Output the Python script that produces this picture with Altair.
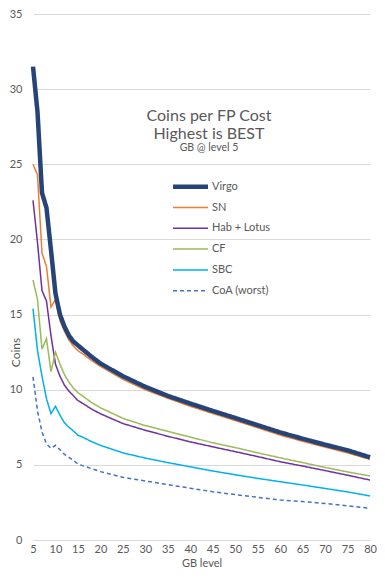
import altair as alt
import pandas as pd

LEVELS = [5, 6, 7, 8, 9, 10, 11, 12, 13, 14, 15, 16, 18, 20, 25, 30, 35, 40, 45, 50, 55, 60, 65, 70, 75, 80]

SERIES = ["Virgo", "SN", "Hab + Lotus", "CF", "SBC", "CoA (worst)"]

VIRGO = [31.5, 28.5, 23.1, 22.1, 19.3, 16.4, 15.0, 14.2, 13.6, 13.2, 12.95, 12.7, 12.2, 11.75, 10.9, 10.19, 9.59, 9.08, 8.59, 8.12, 7.64, 7.16, 6.74, 6.34, 5.97, 5.5]
SN = [25.0, 24.3, 19.1, 18.2, 15.5, 16.0, 14.6, 13.9, 13.3, 12.9, 12.6, 12.4, 11.95, 11.55, 10.69, 10.0, 9.43, 8.9, 8.42, 7.95, 7.47, 6.98, 6.57, 6.18, 5.8, 5.36]
HAB = [22.6, 19.8, 16.6, 15.9, 13.6, 11.7, 10.9, 10.3, 9.9, 9.6, 9.28, 9.1, 8.72, 8.4, 7.75, 7.3, 6.9, 6.53, 6.2, 5.88, 5.55, 5.21, 4.92, 4.62, 4.31, 3.99]
CF = [17.3, 16.0, 12.7, 13.4, 11.2, 12.5, 11.7, 11.0, 10.5, 10.1, 9.8, 9.6, 9.15, 8.8, 8.1, 7.61, 7.23, 6.85, 6.47, 6.15, 5.8, 5.47, 5.15, 4.83, 4.53, 4.26]
SBC = [15.4, 12.6, 10.9, 9.4, 8.4, 8.9, 8.3, 7.8, 7.5, 7.25, 6.97, 6.85, 6.55, 6.3, 5.8, 5.45, 5.15, 4.87, 4.59, 4.34, 4.1, 3.88, 3.66, 3.43, 3.2, 2.93]
COA = [10.85, 8.6, 7.2, 6.4, 6.1, 6.3, 6.0, 5.7, 5.5, 5.3, 5.05, 4.95, 4.75, 4.55, 4.17, 3.93, 3.68, 3.45, 3.21, 3.02, 2.84, 2.66, 2.56, 2.43, 2.27, 2.11]

COLORS = ["#264478", "#ED7D31", "#7030A0", "#9BBB59", "#00B0F0", "#4472C4"]
DASHES = [[1, 0], [1, 0], [1, 0], [1, 0], [1, 0], [4, 3]]

X_TICKS = list(range(5, 81, 5))
Y_TICKS = list(range(0, 36, 5))

TITLE_1 = "Coins per FP Cost"
TITLE_2 = "Highest is BEST"
SUBTITLE = "GB @ level 5"

FONT = "Lato"
GREY = "#595959"

rows = []
for name, vals in zip(SERIES, [VIRGO, SN, HAB, CF, SBC, COA]):
    for lv, v in zip(LEVELS, vals):
        rows.append({"series": name, "level": lv, "coins": v})
df = pd.DataFrame(rows)

color_scale = alt.Scale(domain=SERIES, range=COLORS)
dash_scale = alt.Scale(domain=SERIES, range=DASHES)

x_axis = alt.Axis(
    values=X_TICKS, title="GB level", grid=False, ticks=False,
    domain=False, labelPadding=3, labelOverlap=False, labelFlush=False,
    titleY=23, titleBaseline="middle", titleFontSize=11,
)
y_axis = alt.Axis(
    values=Y_TICKS, title="Coins", grid=True, gridColor="#D9D9D9",
    ticks=False, domain=False, labelPadding=11, labelFlush=False,
    labelOverlap=False,
    titleX=-18, titleY=338, titleAngle=270, titleAlign="center",
    titleBaseline="middle",
)
x_scale = alt.Scale(domain=[5, 80], nice=False, zero=False)
y_scale = alt.Scale(domain=[0, 35], nice=False)


def x_enc():
    return alt.X("level:Q", scale=x_scale, axis=x_axis)


def y_enc():
    return alt.Y("coins:Q", scale=y_scale, axis=y_axis)


color_enc = alt.Color("series:N", scale=color_scale, legend=None)
dash_enc = alt.StrokeDash("series:N", scale=dash_scale, legend=None)

others = alt.Chart(df).transform_filter(alt.datum.series != "Virgo").mark_line(
    strokeWidth=1.5
).encode(x=x_enc(), y=y_enc(), color=color_enc, strokeDash=dash_enc)
virgo = alt.Chart(df).transform_filter(alt.datum.series == "Virgo").mark_line(
    strokeWidth=4.5
).encode(x=x_enc(), y=y_enc(), color=color_enc, strokeDash=dash_enc)

leg_df = pd.DataFrame({"series": SERIES, "idx": list(range(len(SERIES)))})
leg_base = alt.Chart(leg_df).transform_calculate(ly="172.7 + 20.8 * datum.idx")
leg_rules_thin = leg_base.transform_filter(alt.datum.series != "Virgo").mark_rule(
    strokeWidth=1.5
).encode(
    x=alt.value(140), x2=alt.value(175),
    y=alt.Y("ly:Q", scale=None, axis=None),
    color=color_enc, strokeDash=dash_enc,
)
leg_rules_thick = leg_base.transform_filter(alt.datum.series == "Virgo").mark_rule(
    strokeWidth=4.5
).encode(
    x=alt.value(140), x2=alt.value(175),
    y=alt.Y("ly:Q", scale=None, axis=None),
    color=color_enc, strokeDash=dash_enc,
)
leg_text = leg_base.mark_text(
    align="left", baseline="middle", fontSize=11, font=FONT, color=GREY
).encode(
    x=alt.value(179), y=alt.Y("ly:Q", scale=None, axis=None), text="series:N"
)

t1 = alt.Chart(pd.DataFrame({"t": [TITLE_1]})).mark_text(
    align="center", baseline="middle", fontSize=16, font=FONT, color=GREY
).encode(text="t:N", x=alt.value(176), y=alt.value(102))
t2 = alt.Chart(pd.DataFrame({"t": [TITLE_2]})).mark_text(
    align="center", baseline="middle", fontSize=16, font=FONT, color=GREY
).encode(text="t:N", x=alt.value(176), y=alt.value(120))
t3 = alt.Chart(pd.DataFrame({"t": [SUBTITLE]})).mark_text(
    align="center", baseline="middle", fontSize=10.5, font=FONT, color=GREY
).encode(text="t:N", x=alt.value(176), y=alt.value(134))

chart = alt.layer(
    others, virgo, leg_rules_thin, leg_rules_thick, leg_text, t1, t2, t3
).properties(
    width=337, height=526,
    padding={"left": 25, "top": 6, "right": 7, "bottom": 29},
    autosize=alt.AutoSizeParams(type="none"),
).configure_view(stroke=None).configure_axis(
    labelFont=FONT, titleFont=FONT, labelColor=GREY, titleColor=GREY,
    labelFontSize=11, titleFontSize=12, titleFontWeight="normal",
    labelOverlap=False,
)

chart.save("out.html", embed_options={"renderer": "svg", "actions": False})
